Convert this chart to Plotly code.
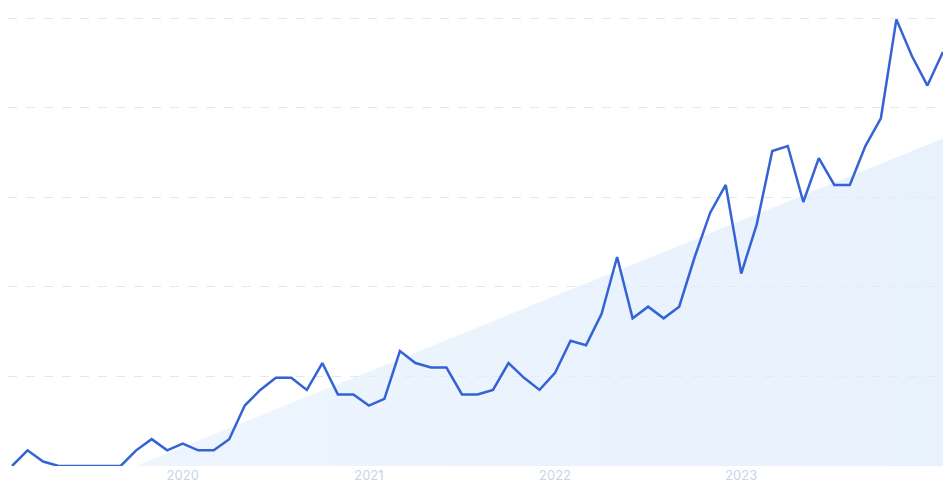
import plotly.graph_objects as go

# monthly index, Feb 2019 .. Feb 2024
months = list(range(61))
values = [0, 3.5, 1, 0, 0, 0, 0, 0, 3.5, 6, 3.5, 5, 3.5, 3.5, 6, 13.5, 17, 19.7, 19.7, 17,
          23, 16, 16, 13.5, 15, 25.7, 23, 22, 22, 16, 16, 17, 23, 19.7, 17, 20.8, 28, 27, 34, 46.7,
          33, 35.6, 33, 35.6, 46.7, 56.6, 62.8, 43, 54, 70.4, 71.5, 59, 68.8, 62.8, 62.8, 71.5, 77.7,
          99.8, 91.6, 85, 92.5]
tick_pos = [11, 23, 35, 47]
tick_text = ["2020", "2021", "2022", "2023"]
shade_x = [8, 60.6, 60.6]
shade_y = [0, 74, 0]

fig = go.Figure()
fig.add_trace(go.Scatter(x=shade_x, y=shade_y, fill='toself', mode='none',
                         fillgradient=dict(type='horizontal',
                                           colorscale=[[0, 'rgba(230,240,253,0.7)'],
                                                       [1, 'rgba(222,236,252,0.7)']]),
                         hoverinfo='skip'))
fig.add_trace(go.Scatter(x=months, y=values, mode='lines',
                         line=dict(color='#3563d4', width=2.5)))

fig.update_layout(
    width=943, height=489, showlegend=False,
    margin=dict(l=0, r=0, t=6, b=31),
    paper_bgcolor='white', plot_bgcolor='white',
    font=dict(family='Inter', size=13, color='#c9d4e8'),
)
fig.update_xaxes(range=[-0.26, 60.52], tickvals=tick_pos, ticktext=tick_text,
                 showgrid=False, zeroline=False, showline=False)
fig.update_yaxes(range=[0, 101], tickvals=[20, 40, 60, 80, 100], showticklabels=False,
                 zeroline=False, gridcolor='#e6e6e6', griddash='dash', gridwidth=1)

fig.write_html("out.html")
